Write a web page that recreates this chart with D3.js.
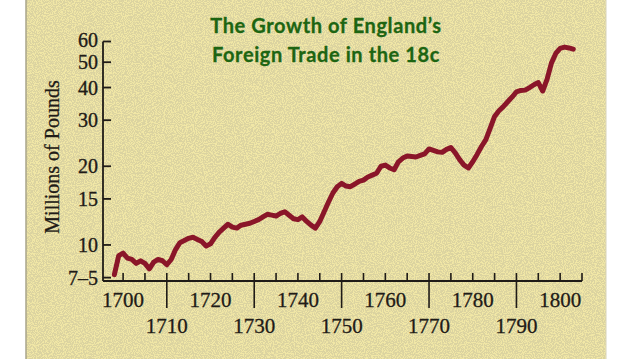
<!DOCTYPE html>
<html lang="en">
<head>
    <meta charset="UTF-8">
    <title>The Growth of England's Foreign Trade in the 18c</title>
    <script src="https://cdnjs.cloudflare.com/ajax/libs/d3/7.9.0/d3.min.js"></script>
    <style>
        html, body { margin: 0; padding: 0; background: #ffffff; }
        svg { display: block; }
    </style>
</head>
<body>
<svg id="chart" width="638" height="359"></svg>
<script>
    // trade values, millions of pounds
    const years = [1698, 1699, 1700, 1701, 1702, 1703, 1704, 1705, 1706, 1707, 1708, 1709,
        1710, 1711, 1712, 1713, 1714, 1715, 1716, 1717, 1718, 1719,
        1720, 1721, 1722, 1723, 1724, 1725, 1726, 1727, 1728, 1729,
        1730, 1731, 1732, 1733, 1734, 1735, 1736, 1737, 1738, 1739,
        1740, 1741, 1742, 1743, 1744, 1745, 1746, 1747, 1748, 1749,
        1750, 1751, 1752, 1753, 1754, 1755, 1756, 1757, 1758, 1759,
        1760, 1761, 1762, 1763, 1764, 1765, 1766, 1767, 1768, 1769,
        1770, 1771, 1772, 1773, 1774, 1775, 1776, 1777, 1778, 1779,
        1780, 1781, 1782, 1783, 1784, 1785, 1786, 1787, 1788, 1789,
        1790, 1791, 1792, 1793, 1794, 1795, 1796, 1797, 1798, 1799,
        1800, 1801, 1802, 1803];
    const trade = [7.7, 9.1, 9.3, 8.9, 8.8, 8.5, 8.7, 8.5, 8.1, 8.6, 8.8, 8.7,
        8.4, 8.8, 9.6, 10.2, 10.4, 10.6, 10.7, 10.5, 10.3, 9.9,
        10.1, 10.7, 11.2, 11.6, 12.0, 11.7, 11.6, 11.9, 12.0, 12.1,
        12.3, 12.5, 12.8, 13.1, 13.0, 12.9, 13.2, 13.4, 13.0, 12.6,
        12.5, 12.8, 12.3, 11.9, 11.6, 12.3, 13.4, 14.6, 15.8, 16.7,
        17.2, 16.8, 16.7, 17.1, 17.5, 17.7, 18.2, 18.5, 18.8, 20.0,
        20.2, 19.7, 19.4, 20.8, 21.5, 21.9, 21.8, 21.7, 22.0, 22.3,
        23.3, 23.0, 22.7, 22.6, 23.2, 23.6, 22.5, 21.2, 20.2, 19.7,
        20.8, 22.2, 23.8, 25.3, 28.0, 31.0, 32.6, 33.8, 35.3, 36.8,
        38.5, 39.0, 39.1, 40.0, 41.0, 41.8, 38.8, 43.0, 49.6, 54.0,
        56.5, 57.1, 56.7, 56.1];

    const yTicks = [7.5, 10, 15, 20, 30, 40, 50, 60];
    const yTickLabels = ['7–5', '10', '15', '20', '30', '40', '50', '60'];
    const xLabelsTop = [1700, 1720, 1740, 1760, 1780, 1800];
    const xLabelsBottom = [1710, 1730, 1750, 1770, 1790];
    const titleLines = ["The Growth of England’s", "Foreign Trade in the 18c"];

    const svg = d3.select('#chart');

    // speckled parchment texture
    const defs = svg.append('defs');
    const grain = defs.append('filter').attr('id', 'grain')
        .attr('x', 0).attr('y', 0).attr('width', '100%').attr('height', '100%');
    grain.append('feTurbulence')
        .attr('type', 'fractalNoise').attr('baseFrequency', 0.9)
        .attr('numOctaves', 2).attr('seed', 3).attr('result', 'noise');
    grain.append('feColorMatrix').attr('in', 'noise').attr('type', 'matrix')
        .attr('values', '0 0 0 0 0.45  0 0 0 0 0.43  0 0 0 0 0.30  0 0 0 -9 5.2');

    svg.append('rect')
        .attr('x', 26).attr('y', 0)
        .attr('width', 580).attr('height', 359)
        .attr('fill', '#f1e7a6');
    svg.append('rect')
        .attr('x', 26).attr('y', 0)
        .attr('width', 580).attr('height', 359)
        .attr('filter', 'url(#grain)')
        .attr('opacity', 0.35);
    svg.append('line')
        .attr('x1', 26).attr('x2', 26).attr('y1', 0).attr('y2', 359)
        .attr('stroke', '#a9a58a').attr('stroke-width', 1.5);
    svg.append('line')
        .attr('x1', 606).attr('x2', 606).attr('y1', 0).attr('y2', 359)
        .attr('stroke', '#d8d4b8').attr('stroke-width', 1);

    const x = d3.scaleLinear().domain([1695.4, 1805]).range([103, 582]);
    const y = d3.scaleLog().domain([7.28, 60]).range([281, 41.5]);

    const serif = '"Liberation Serif", "DejaVu Serif", serif';
    const ink = '#1f1b17';

    // y axis
    const yAxis = svg.append('g').attr('transform', `translate(${x.range()[0]},0)`);
    yAxis.append('line')
        .attr('y1', y(60)).attr('y2', 281)
        .attr('stroke', ink).attr('stroke-width', 1.8);
    yAxis.selectAll('line.tick').data(yTicks).enter().append('line')
        .attr('class', 'tick')
        .attr('x1', 0).attr('x2', 8)
        .attr('y1', d => y(d)).attr('y2', d => y(d))
        .attr('stroke', ink).attr('stroke-width', 1.8);
    yAxis.selectAll('text').data(yTicks).enter().append('text')
        .attr('x', -5)
        .attr('y', d => y(d) + (d === 60 ? 5.5 : 7))
        .attr('text-anchor', 'end')
        .attr('font-family', serif)
        .attr('font-size', 20)
        .attr('fill', ink).attr('stroke', ink).attr('stroke-width', 0.35)
        .text((d, i) => yTickLabels[i]);

    // x axis
    const xAxis = svg.append('g').attr('transform', 'translate(0,281)');
    xAxis.append('line')
        .attr('x1', x.range()[0]).attr('x2', x.range()[1])
        .attr('stroke', ink).attr('stroke-width', 1.8);
    xAxis.selectAll('line.minor').data(d3.range(1700, 1806, 5)).enter().append('line')
        .attr('class', 'minor')
        .attr('x1', d => x(d)).attr('x2', d => x(d))
        .attr('y1', 0).attr('y2', -8)
        .attr('stroke', ink).attr('stroke-width', 1.6);
    xAxis.selectAll('line.major').data(xLabelsBottom).enter().append('line')
        .attr('class', 'major')
        .attr('x1', d => x(d)).attr('x2', d => x(d))
        .attr('y1', 0).attr('y2', 27)
        .attr('stroke', ink).attr('stroke-width', 1.6);
    xAxis.selectAll('text.top').data(xLabelsTop).enter().append('text')
        .attr('class', 'top')
        .attr('x', d => x(d)).attr('y', 26)
        .attr('text-anchor', 'middle')
        .attr('font-family', serif).attr('font-size', 21)
        .attr('fill', ink).attr('stroke', ink).attr('stroke-width', 0.3)
        .text(d => d);
    xAxis.selectAll('text.bottom').data(xLabelsBottom).enter().append('text')
        .attr('class', 'bottom')
        .attr('x', d => x(d)).attr('y', 52)
        .attr('text-anchor', 'middle')
        .attr('font-family', serif).attr('font-size', 21)
        .attr('fill', ink).attr('stroke', ink).attr('stroke-width', 0.3)
        .text(d => d);

    // y axis title
    svg.append('text')
        .attr('transform', 'translate(59,157) rotate(-90)')
        .attr('text-anchor', 'middle')
        .attr('font-family', serif).attr('font-size', 20)
        .attr('fill', ink).attr('stroke', ink).attr('stroke-width', 0.3)
        .text('Millions of Pounds');

    // chart title
    svg.selectAll('text.title').data(titleLines).enter().append('text')
        .attr('class', 'title')
        .attr('x', 326).attr('y', (d, i) => 33 + i * 29)
        .attr('text-anchor', 'middle')
        .attr('font-family', 'Lato, "Open Sans", sans-serif')
        .attr('font-weight', 'bold').attr('font-size', 20)
        .attr('letter-spacing', 0.6)
        .attr('fill', '#1d6512').attr('stroke', '#1d6512').attr('stroke-width', 0.3)
        .text(d => d);

    // the trade line
    const line = d3.line()
        .x((d, i) => x(years[i]))
        .y(d => y(d));
    svg.append('path')
        .datum(trade)
        .attr('d', line)
        .attr('fill', 'none')
        .attr('stroke', '#8a1629')
        .attr('stroke-width', 5)
        .attr('stroke-linejoin', 'round')
        .attr('stroke-linecap', 'round');
</script>
</body>
</html>
